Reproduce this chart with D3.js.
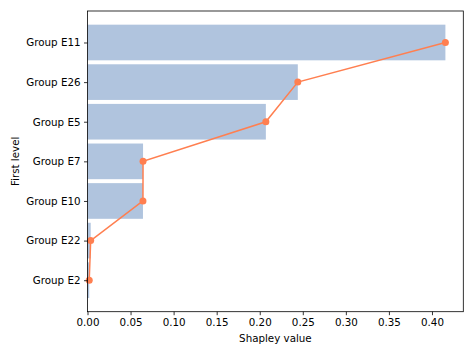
<!DOCTYPE html>
<html><head><meta charset="utf-8">
<script src="https://cdn.jsdelivr.net/npm/d3@7"></script>
<style>body{margin:0;background:#fff;} text{font-family:"DejaVu Sans",sans-serif;}</style>
</head><body>
<svg id="c" width="474" height="355"></svg>
<script>
const categories = ["Group E2","Group E22","Group E10","Group E7","Group E5","Group E26","Group E11"];
const values = [0.002, 0.0037, 0.0644, 0.0645, 0.2071, 0.2442, 0.4156];
const xTicks = [0,0.05,0.10,0.15,0.20,0.25,0.30,0.35,0.40];

const svg = d3.select("#c");
const L = 87.5, R = 463.3, T = 11, B = 311.7;
const n = categories.length;
const xmax = d3.max(values)*1.05;
const x = d3.scaleLinear().domain([0, xmax]).range([L, R]);
const yPad = (n - 1 + 0.9) * 0.05;
const y = d3.scaleLinear().domain([-0.45 - yPad, n - 1 + 0.45 + yPad]).range([B, T]);
const bh = 0.9;

const data = categories.map((c,i)=>({c, i, v: values[i]}));

svg.append("g").selectAll("rect").data(data).enter().append("rect")
  .attr("x", x(0))
  .attr("y", d=>y(d.i + bh/2))
  .attr("width", d=>x(d.v)-x(0))
  .attr("height", d=>y(d.i - bh/2) - y(d.i + bh/2))
  .attr("fill", "#b0c4de");

const line = d3.line().x(d=>x(d.v)).y(d=>y(d.i));
svg.append("path").datum(data).attr("d", line)
  .attr("fill","none").attr("stroke","#ff7f50").attr("stroke-width",1.5);
svg.append("g").selectAll("circle").data(data).enter().append("circle")
  .attr("cx", d=>x(d.v)).attr("cy", d=>y(d.i)).attr("r", 3.5).attr("fill","#ff7f50");

// frame
svg.append("rect").attr("x",L).attr("y",T).attr("width",R-L).attr("height",B-T)
  .attr("fill","none").attr("stroke","#000").attr("stroke-width",0.8);

// x axis
const xa = svg.append("g").attr("transform",`translate(0,${B})`)
  .call(d3.axisBottom(x).tickValues(xTicks).tickFormat(d3.format(".2f")).tickSize(3.5).tickPadding(3.5));
xa.select(".domain").remove();
xa.selectAll("text").attr("font-size","10.3px").attr("fill","#000").attr("font-family","DejaVu Sans");
xa.selectAll("line").attr("stroke","#000").attr("stroke-width",0.8);

// y axis
const ya = svg.append("g").attr("transform",`translate(${L},0)`)
  .call(d3.axisLeft(y).tickValues(d3.range(n)).tickFormat(i=>categories[i]).tickSize(3.5).tickPadding(3.5));
ya.select(".domain").remove();
ya.selectAll("text").attr("font-size","10.3px").attr("fill","#000").attr("font-family","DejaVu Sans");
ya.selectAll("line").attr("stroke","#000").attr("stroke-width",0.8);

svg.append("text").attr("x",(L+R)/2).attr("y",341.5).attr("text-anchor","middle")
  .attr("font-size","10.3px").text("Shapley value");
svg.append("text").attr("transform",`translate(19,${(T+B)/2}) rotate(-90)`).attr("text-anchor","middle")
  .attr("font-size","10.3px").text("First level");
</script>
</body></html>
